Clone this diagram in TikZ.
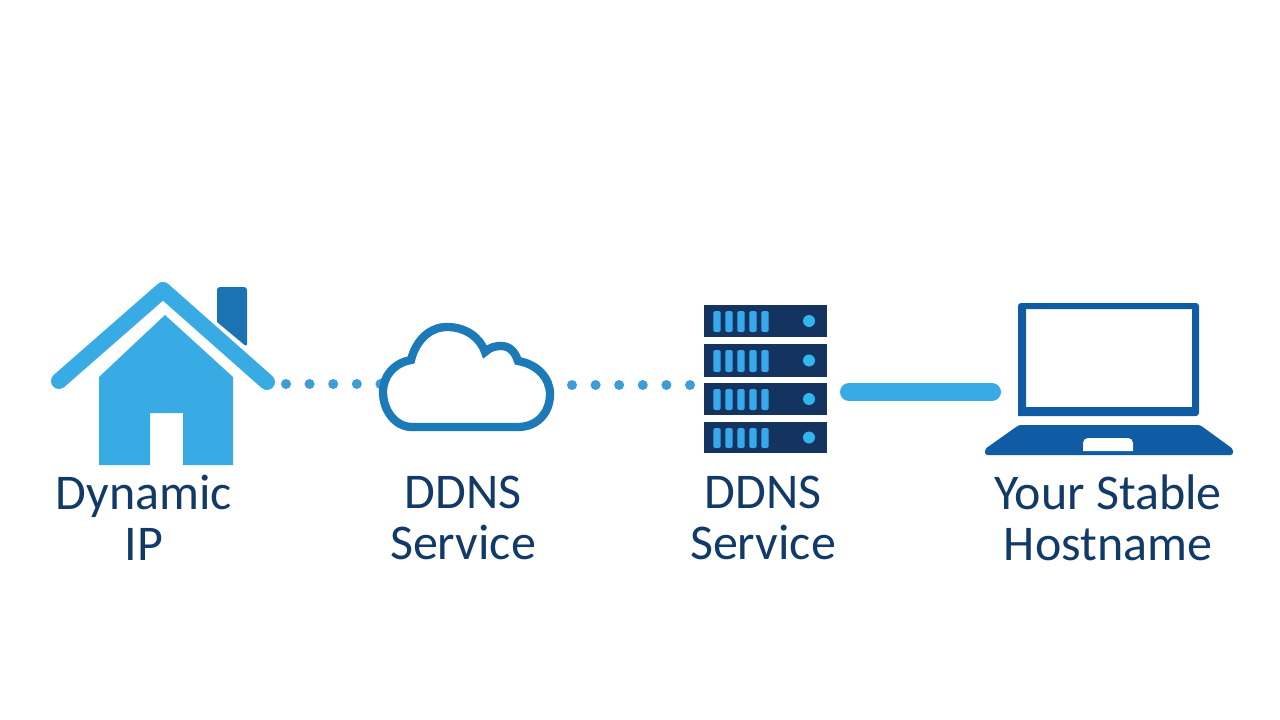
\documentclass[tikz,border=0pt]{standalone}
\usepackage{fontspec}
\setmainfont{Carlito}
\definecolor{sky}{HTML}{38ABE4}
\definecolor{chim}{HTML}{1B73B3}
\definecolor{cloudblue}{HTML}{1C7AB9}
\definecolor{dotblue}{HTML}{3F9DD6}
\definecolor{navy}{HTML}{14335F}
\definecolor{barblue}{HTML}{38A8EC}
\definecolor{lapblue}{HTML}{0F5CA5}
\definecolor{textblue}{HTML}{123A68}
\tikzset{
  label text/.style={text=textblue,font=\fontsize{50}{51.5}\selectfont,align=center,inner sep=0pt},
  dot link/.style={draw=dotblue,line width=10pt,line cap=round,dash pattern=on 0pt off 23.6pt},
  solid link/.style={draw=sky,line width=18pt,line cap=round},
  rack/.style={fill=navy},
  rack bar/.style={fill=barblue,rounded corners=1.5pt},
  rack led/.style={fill=barblue!85!cyan},
}
\begin{document}
\begin{tikzpicture}[x=1pt,y=-1pt]
\useasboundingbox (0,0) rectangle (1280,720);
\fill[white] (0,0) rectangle (1280,720);
% house
\fill[chim,rounded corners=3pt] (217,322) -- (217,287) -- (247,287) -- (247,347) [sharp corners] -- cycle;
\fill[sky] (99,377) -- (165,315) -- (233,377) -- (233,465) -- (183,465) -- (183,413) -- (150,413) -- (150,465) -- (99,465) -- cycle;
\draw[sky,line width=16pt,line cap=round,line join=round] (59,381) -- (163,290) -- (267,382);
% named link ends
\coordinate (houseLink) at (286,384);
\coordinate (cloudIn) at (381.5,384);
\coordinate (cloudOut) at (572,385);
\coordinate (rackIn) at (690,385);
\coordinate (rackOut) at (849,392);
\coordinate (lapIn) at (992,392);
% links
\draw[dot link] (houseLink) -- (cloudIn);
\draw[dot link] (cloudOut) -- (rackIn);
\draw[solid link] (rackOut) -- (lapIn);
% cloud
\draw[cloudblue,line width=8.3pt,miter limit=2]
 (383,392) .. controls (383,376) and (394,363) .. (411,360)
 .. controls (416,340) and (430,327) .. (447,327)
 .. controls (465,327) and (480,337) .. (485,352)
 .. controls (490,347) and (496,346) .. (501,346)
 .. controls (510,346) and (515,352) .. (518,361)
 .. controls (537,364) and (550,378) .. (550,394)
 .. controls (550,413) and (537,427) .. (518,427)
 -- (412,427)
 .. controls (395,427) and (383,410) .. (383,392) -- cycle;
% server
\foreach \t/\b in {305/337,344/377,383/415,422/453}{
  \fill[rack] (704,\t) rectangle (827,\b);
  \foreach \x in {717,729,741,753,765}
    \fill[rack bar] (\x-3.7,\t+6) rectangle (\x+3.7,\b-5);
  \fill[rack led] (809,{(\t+\b)/2}) circle (6);
}
% laptop
\fill[lapblue,even odd rule,rounded corners=3pt] (1018,416) [sharp corners] -- (1018,306) [rounded corners=3pt] -- (1018,303) -- (1199,303) -- (1199,416) [sharp corners] -- cycle
  (1026,309) rectangle (1192,407);
\fill[lapblue,rounded corners=2.5pt] (1019,425) -- (1200,425) -- (1233,449) -- (1233,455) -- (985,455) -- (985,449) -- cycle;
\fill[white,rounded corners=5pt] (1083,451) -- (1083,438) -- (1133,438) -- (1133,451);
% labels
\node[label text] (lblHouse) at (144,518) {Dynamic\\IP};
\node[label text] (lblCloud) at (463,518) {DDNS\\Service};
\node[label text] (lblRack) at (763,518) {DDNS\\Service};
\node[label text] (lblLaptop) at (1108,518) {Your Stable\\Hostname};
\end{tikzpicture}
\end{document}
